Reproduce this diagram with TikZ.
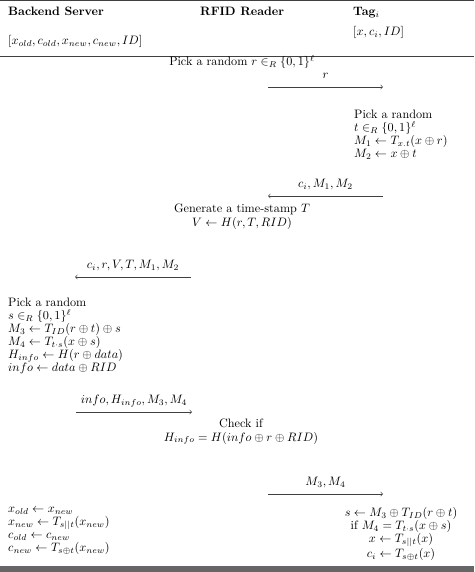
\documentclass[tikz,border=0pt]{standalone}
\usepackage{amsmath}
\begin{document}
\begin{tikzpicture}[x=0.82pt, y=-0.82pt,
        font=\fontsize{10}{10.7}\selectfont,
        txt/.style={anchor=base west, inner sep=0pt},
        mid/.style={anchor=base, inner sep=0pt, align=center},
        block/.style={anchor=north west, inner sep=0pt, align=left},
        msg/.style={->, line width=0.5pt, black!75},
        msglabel/.style={midway, anchor=base, inner sep=0pt, yshift=7pt, text=black}]

        \useasboundingbox (0,0) rectangle (474,572);

        % Rules of the table
        \draw[line width=1.1pt, black!75] (0,0.7) -- (474,0.7);
        \draw[line width=0.9pt, black!75] (0,56.5) -- (474,56.5);
        \draw[line width=5pt, black!60] (0,569) -- (474,569);

        % Parties and what they store
        \node[txt] (server) at (8,16) {\textbf{Backend Server}};
        \node[txt] (reader) at (200,16) {\textbf{RFID Reader}};
        \node[txt] (tag) at (353,16) {\textbf{Tag}$_i$};
        \node[txt] (serverdata) at (8,45) {$[x_{old}, c_{old}, x_{new}, c_{new}, ID]$};
        \node[txt] (tagdata) at (353,36) {$[x, c_i, ID]$};

        % Reader starts
        \node[mid] (pickr) at (242,66) {Pick a random $r \in_R \{0,1\}^\ell$};
        \coordinate (m1a) at (268,87);
        \coordinate (m1b) at (383,87);
        \draw[msg] (m1a) -- node[msglabel] {$r$} (m1b);

        % Tag answers
        \node[block] (tagcomp) at (354,110) {Pick a random\\
            $t \in_R \{0,1\}^\ell$\\
            $M_1 \leftarrow T_{x.t}(x \oplus r)$\\
            $M_2 \leftarrow x \oplus t$};
        \coordinate (m2a) at (383,196);
        \coordinate (m2b) at (268,196);
        \draw[msg] (m2a) -- node[msglabel] {$c_i, M_1, M_2$} (m2b);

        % Reader forwards
        \node[mid] (stamp) at (242,226) {Generate a time-stamp $T$\\
            $V \leftarrow H(r, T, RID)$};
        \coordinate (m3a) at (191,277);
        \coordinate (m3b) at (75,277);
        \draw[msg] (m3a) -- node[msglabel] {$c_i, r, V, T, M_1, M_2$} (m3b);

        % Server computes
        \node[block] (servcomp) at (8,298) {Pick a random\\
            $s \in_R \{0,1\}^\ell$\\
            $M_3 \leftarrow T_{ID}(r \oplus t) \oplus s$\\
            $M_4 \leftarrow T_{t\cdot s}(x \oplus s)$\\
            $H_{info} \leftarrow H(r \oplus data)$\\
            $info \leftarrow data \oplus RID$};
        \coordinate (m4a) at (76,412);
        \coordinate (m4b) at (192,412);
        \draw[msg] (m4a) -- node[msglabel] {$info, H_{info}, M_3, M_4$} (m4b);

        % Reader checks
        \node[mid] (check) at (241,441) {Check if\\
            $H_{info} = H(info \oplus r \oplus RID)$};
        \coordinate (m5a) at (268,494);
        \coordinate (m5b) at (383,494);
        \draw[msg] (m5a) -- node[msglabel] {$M_3, M_4$} (m5b);

        % Updates on both sides
        \node[block] (servupd) at (8,507) {$x_{old} \leftarrow x_{new}$\\
            $x_{new} \leftarrow T_{s||t}(x_{new})$\\
            $c_{old} \leftarrow c_{new}$\\
            $c_{new} \leftarrow T_{s \oplus t}(x_{new})$};
        \node[mid, anchor=north] (tagupd) at (401,507) {$s \leftarrow M_3 \oplus T_{ID}(r \oplus t)$\\
            if $M_4 = T_{t\cdot s}(x \oplus s)$\\
            $x \leftarrow T_{s||t}(x)$\\
            $c_i \leftarrow T_{s \oplus t}(x)$};
    \end{tikzpicture}
\end{document}
